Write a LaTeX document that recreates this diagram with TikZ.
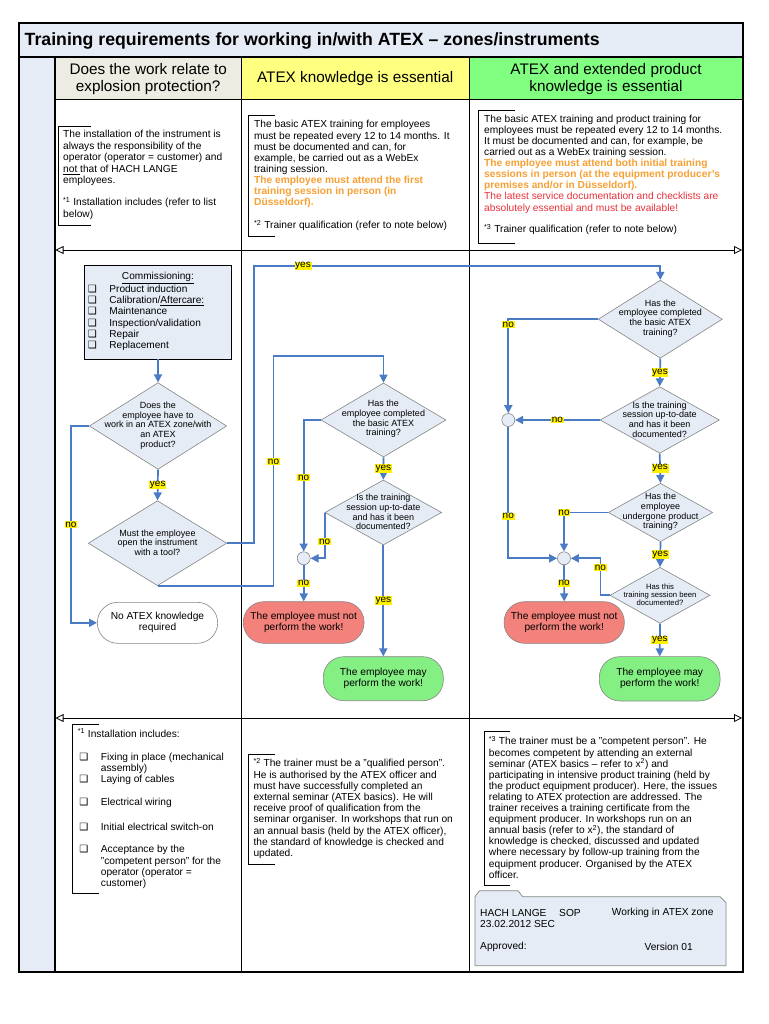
\documentclass[tikz,border=0pt]{standalone}
\usepackage{fontspec}
\setmainfont{Liberation Sans}
\newfontfamily\djv{DejaVu Sans}
\usetikzlibrary{shapes.geometric,arrows.meta}
\definecolor{lane}{HTML}{E6ECF6}
\definecolor{hgray}{HTML}{ECECE2}
\definecolor{hyellow}{HTML}{FFFF80}
\definecolor{hgreen}{HTML}{80FF80}
\definecolor{flowblue}{HTML}{4A7BC4}
\definecolor{dfill}{HTML}{E6ECF6}
\definecolor{dborder}{HTML}{858585}
\definecolor{torange}{HTML}{F7A034}
\definecolor{tred}{HTML}{E8323C}
\definecolor{termred}{HTML}{F4827C}
\definecolor{termgreen}{HTML}{84F084}
\newcommand{\fs}[2]{\fontsize{#1}{#2}\selectfont}
\newcommand{\cbx}{{\djv\fontsize{10}{10}\selectfont ❑}}
\newcommand{\orb}[1]{\textcolor{torange}{\bfseries #1}}
\newcommand{\rdt}[1]{\textcolor{tred}{#1}}
\newcommand{\astn}[1]{\textsuperscript{*#1}}
\newcommand{\itm}{\makebox[1.5pt]{}\makebox[21.5pt][l]{\cbx}}
\newcommand{\ind}{\makebox[23pt]{}}
\begin{document}
\begin{tikzpicture}[x=1pt,y=-1pt,
  fa/.style={draw=flowblue,line width=1.7pt,-{Triangle[length=8pt,width=8pt]}},
  fathin/.style={draw=flowblue,line width=1.2pt,-{Triangle[length=8pt,width=8pt]}},
  yn/.style={fill=yellow,inner sep=0.7pt,font=\fs{10}{10},text=black},
  dec/.style={diamond,draw=dborder,fill=dfill,line width=0.6pt,inner sep=0},
  dtxt/.style={align=center,inner sep=0,font=\fs{9}{9.7}},
  term/.style={rectangle,rounded corners=20.5pt,draw=dborder,line width=0.6pt,align=center,font=\fs{10.2}{11},inner sep=0,minimum height=42pt,minimum width=120.5pt},
  jn/.style={circle,draw=dborder,fill=dfill,line width=0.6pt,minimum size=13pt,inner sep=0},
  txt/.style={anchor=north west,align=left,inner sep=0,font=\fs{10.2}{11.2}},
  brk/.style={draw=black,line width=0.8pt},
  sepline/.style={draw=black,line width=0.8pt,{Triangle[open,length=8pt,width=8pt]}-{Triangle[open,length=8pt,width=8pt]}},
  hdr/.style={align=center,inner sep=0,font=\fs{15.3}{17.3}}
]
\useasboundingbox (0,0) rectangle (768,1024);
% backgrounds
\fill[white] (0,0) rectangle (768,1024);
\fill[lane] (19,23) rectangle (743,57);
\fill[lane] (19,57) rectangle (55,972);
\fill[hgray] (55,57) rectangle (241.5,100);
\fill[hyellow] (241.5,57) rectangle (469,100);
\fill[hgreen] (469,57) rectangle (743,100);
% frame
\draw[line width=1.1pt] (19,23) rectangle (743,972);
\draw[line width=1.6pt] (19,57) -- (743,57);
\draw[line width=1pt] (55,100) -- (743,100);
\draw[line width=1.2pt] (55,57) -- (55,972);
\draw[line width=1pt] (241.5,57) -- (241.5,972);
\draw[line width=1pt] (469,57) -- (469,972);
% title and headers
\node[anchor=base west,inner sep=0,font=\bfseries\fs{17.7}{20}] (title) at (24.5,45.7) {Training requirements for working in/with ATEX – zones/instruments};
\node[hdr] (h1) at (148.2,79) {Does the work relate to\\explosion protection?};
\node[hdr] (h2) at (355.2,79) {ATEX knowledge is essential};
\node[hdr] (h3) at (606,79) {ATEX and extended product\\knowledge is essential};
% top notes
\draw[brk] (91,126) -- (58,126) -- (58,225.7) -- (91,225.7);
\node[txt,font=\fs{10.2}{11.5}] (n1) at (63,130.4) {The installation of the instrument is\\always the responsibility of the\\operator (operator = customer) and\\\underline{not }that of HACH LANGE\\employees.\\[10.2pt]\astn{1} Installation includes (refer to list\\below)};
\draw[brk] (275,115.3) -- (248.5,115.3) -- (248.5,236.7) -- (275,236.7);
\node[txt,font=\fs{10.2}{11.1}] (n2) at (254,120.4) {The basic ATEX training for employees\\must be repeated every 12 to 14 months. It\\must be documented and can, for\\example, be carried out as a WebEx\\training session.\\\orb{The employee must attend the first}\\\orb{training session in person (in}\\\orb{Düsseldorf).}\\[12.2pt]\astn{2} Trainer qualification (refer to note below)};
\draw[brk] (515,110) -- (478.3,110) -- (478.3,243.3) -- (515,243.3);
\node[txt,font=\fs{10.2}{11.1}] (n3) at (484,114.7) {The basic ATEX training and product training for\\employees must be repeated every 12 to 14 months.\\It must be documented and can, for example, be\\carried out as a WebEx training session.\\\orb{The employee must attend both initial training}\\\orb{sessions in person (at the equipment producer's}\\\orb{premises and/or in Düsseldorf).}\\\rdt{The latest service documentation and checklists are}\\\rdt{absolutely essential and must be available!}\\[10.6pt]\astn{3} Trainer qualification (refer to note below)};
% separators
\coordinate (s1l) at (55.5,250);
\coordinate (s1r) at (742,250);
\coordinate (s2l) at (55.5,718);
\coordinate (s2r) at (742,718);
\draw[sepline] (s1l) -- (s1r);
\draw[sepline] (s2l) -- (s2r);
% column 1 flow
\node[draw=black,fill=dfill,line width=0.7pt,minimum width=147.4pt,minimum height=93.3pt,inner sep=0] (comm) at (158,312.3) {};
\node[txt,font=\fs{10.1}{11.33}] (commtxt) at (86.2,272.1) {\makebox[143pt][c]{\underline{Commissioning:}}\\\itm Product induction\\\itm Calibration/\underline{Aftercare:}\\\itm Maintenance\\\itm Inspection/validation\\\itm Repair\\\itm Replacement};
\node[dec,minimum width=137.4pt,minimum height=86.6pt] (d1) at (158,426) {};
\node[dtxt] (d1t) at (158,425.5) {Does the\\employee have to\\work in an ATEX zone/with\\an ATEX\\product?};
\node[dec,minimum width=138.4pt,minimum height=85pt] (d2) at (157.5,543.2) {};
\node[dtxt] (d2t) at (157.5,542.5) {Must the employee\\open the instrument\\with a tool?};
\node[term,fill=white,minimum width=120.4pt,minimum height=41pt] (none) at (157.5,622.8) {No ATEX knowledge\\required};
% column 2 flow
\node[dec,minimum width=125pt,minimum height=74pt] (a) at (383.5,420) {};
\node[dtxt] (at) at (383.5,419) {Has the\\employee completed\\the basic ATEX\\training?};
\node[dec,minimum width=116.7pt,minimum height=65pt] (b) at (383.3,512.5) {};
\node[dtxt] (bt) at (383.3,512) {Is the training\\session up-to-date\\and has it been\\documented?};
\node[jn] (j1) at (303.7,558.3) {};
\node[term,fill=termred,minimum width=120.7pt,minimum height=41.6pt] (nr1) at (303.7,622.5) {The employee must not\\perform the work!};
\node[term,fill=termgreen,minimum width=120pt,minimum height=44pt] (ok1) at (383.3,678.7) {The employee may\\perform the work!};
% column 3 flow
\node[dec,minimum width=124pt,minimum height=78pt] (c1) at (660.3,319.2) {};
\node[dtxt] (c1t) at (660.3,318.5) {Has the\\employee completed\\the basic ATEX\\training?};
\node[dec,minimum width=119.3pt,minimum height=66.6pt] (c2) at (659.7,420) {};
\node[dtxt] (c2t) at (659.7,419.5) {Is the training\\session up-to-date\\and has it been\\documented?};
\node[dec,minimum width=104.4pt,minimum height=58.4pt] (c3) at (660.5,512.5) {};
\node[dtxt] (c3t) at (660.5,512) {Has the\\employee\\undergone product\\training?};
\node[dec,minimum width=100pt,minimum height=56pt] (c4) at (660,595.3) {};
\node[dtxt,font=\fs{7.7}{8}] (c4t) at (660,594.8) {Has this\\training session been\\documented?};
\node[jn] (j2) at (508.3,420) {};
\node[jn] (j3) at (564,558.3) {};
\node[term,fill=termred,minimum width=120.3pt,minimum height=41.6pt] (nr2) at (564.2,622.5) {The employee must not\\perform the work!};
\node[term,fill=termgreen,minimum width=120.7pt,minimum height=44.3pt] (ok2) at (659.7,678.8) {The employee may\\perform the work!};
% connectors column 1
\draw[fa] (comm.south) -- (d1.north);
\draw[fa] (d1.south) -- node[yn]{yes} (d2.north);
\draw[fa] (d1.west) -- ++(-18,0) |- node[yn,pos=0.25]{no} (none.west);
\draw[fa] (d2.east) -| (254.3,266) -| node[yn,pos=0.06]{yes} (c1.north);
\draw[fathin] (d2.south) -| node[yn,pos=0.77]{no} (273.5,356) -| (a.north);
% connectors column 2
\draw[fa] (a.south) -- node[yn]{yes} (b.north);
\draw[fa] (a.west) -| node[yn,pos=0.72]{no} (j1.north);
\draw[fa] (b.west) |- node[yn,pos=0.32]{no} (j1.east);
\draw[fa] (j1.south) -- node[yn]{no} (nr1.north);
\draw[fa] (b.south) -- node[yn]{yes} (ok1.north);
% connectors column 3
\draw[fa] (c1.south) -- node[yn]{yes} (c2.north);
\draw[fa] (c2.south) -- node[yn]{yes} (c3.north);
\draw[fa] (c3.south) -- node[yn]{yes} (c4.north);
\draw[fa] (c4.south) -- node[yn]{yes} (ok2.north);
\draw[fa] (c1.west) -| node[yn,pos=0.53]{no} (j2.north);
\draw[fa] (c2.west) -- node[yn]{no} (j2.east);
\draw[fa] (j2.south) |- node[yn,pos=0.34]{no} (j3.west);
\draw[fa] (c3.west) -| node[yn,pos=0.5]{no} (j3.north);
\draw[fa] (c4.west) -- ++(-9.3,0) |- node[yn,pos=0.37]{no} (j3.east);
\draw[fa] (j3.south) -- node[yn]{no} (nr2.north);
% bottom notes
\draw[brk] (99,724.3) -- (72.3,724.3) -- (72.3,893.3) -- (99,893.3);
\node[txt,font=\fs{10.2}{11.3}] (b1) at (77.7,728.7) {\astn{1} Installation includes:\\[11.4pt]\itm Fixing in place (mechanical\\\ind assembly)\\\itm Laying of cables\\[11.4pt]\itm Electrical wiring\\[13.4pt]\itm Initial electrical switch-on\\[11.3pt]\itm Acceptance by the\\\ind "competent person" for the\\\ind operator (operator =\\\ind customer)};
\draw[brk] (275,754.3) -- (248.7,754.3) -- (248.7,864) -- (275,864);
\node[txt,font=\fs{10.2}{11.2}] (b2) at (253.3,758.1) {\astn{2} The trainer must be a "qualified person".\\He is authorised by the ATEX officer and\\must have successfully completed an\\external seminar (ATEX basics). He will\\receive proof of qualification from the\\seminar organiser. In workshops that run on\\an annual basis (held by the ATEX officer),\\the standard of knowledge is checked and\\updated.};
\draw[brk] (510,731.7) -- (484,731.7) -- (484,885.7) -- (510,885.7);
\node[txt,font=\fs{10.2}{11.1}] (b3) at (488.7,736.1) {\astn{3} The trainer must be a "competent person". He\\becomes competent by attending an external\\seminar (ATEX basics – refer to x\textsuperscript{2}) and\\participating in intensive product training (held by\\the product equipment producer). Here, the issues\\relating to ATEX protection are addressed. The\\trainer receives a training certificate from the\\equipment producer. In workshops run on an\\annual basis (refer to x\textsuperscript{2}), the standard of\\knowledge is checked, discussed and updated\\where necessary by follow-up training from the\\equipment producer. Organised by the ATEX\\officer.};
% footer
\draw[draw=dborder,fill=dfill,line width=0.7pt] (475,965.7) -- (475,896.7) -- (479.5,890.7) -- (518,890.7) -- (522.7,896.7) -- (720,896.7) -- (726,902.7) -- (726,965.7) -- cycle;
\node[anchor=west,inner sep=0,font=\fs{10.2}{11}] (f1) at (480,912.7) {HACH LANGE};
\node[anchor=west,inner sep=0,font=\fs{10.2}{11}] (f2) at (559,912.7) {SOP};
\node[anchor=west,inner sep=0,font=\fs{10.2}{11}] (f3) at (611.7,912.7) {Working in ATEX zone};
\node[anchor=west,inner sep=0,font=\fs{10.2}{11}] (f4) at (480,924) {23.02.2012 SEC};
\node[anchor=west,inner sep=0,font=\fs{10.2}{11}] (f5) at (480,947.3) {Approved:};
\node[anchor=west,inner sep=0,font=\fs{10.2}{11}] (f6) at (644.3,947.3) {Version 01};
\end{tikzpicture}
\end{document}
